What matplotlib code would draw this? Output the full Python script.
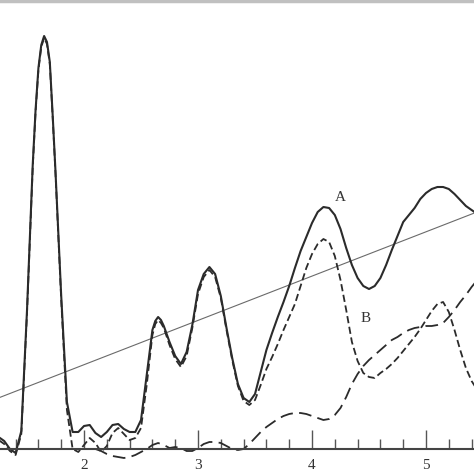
import matplotlib
matplotlib.use("Agg")
import matplotlib.pyplot as plt
from matplotlib.ticker import MultipleLocator
from matplotlib.lines import Line2D

# r grid (Angstrom) shared by curves A and B
r_ab = [1.25, 1.30, 1.35, 1.40, 1.45, 1.50, 1.55, 1.575, 1.60, 1.625, 1.65, 1.675,
        1.70, 1.725, 1.75, 1.80, 1.85, 1.90, 1.95, 2.00, 2.05, 2.10, 2.15, 2.20,
        2.25, 2.30, 2.35, 2.40, 2.45, 2.50, 2.55, 2.60, 2.625, 2.65, 2.675, 2.70,
        2.75, 2.80, 2.85, 2.90, 2.95, 3.00, 3.05, 3.10, 3.15, 3.20, 3.25, 3.30,
        3.35, 3.40, 3.45, 3.50, 3.55, 3.60, 3.65, 3.70, 3.75, 3.80, 3.85, 3.90,
        3.95, 4.00, 4.05, 4.10, 4.15, 4.20, 4.25, 4.30, 4.35, 4.40, 4.45, 4.50,
        4.55, 4.60, 4.65, 4.70, 4.75, 4.80, 4.85, 4.90, 4.95, 5.00, 5.05, 5.10,
        5.15, 5.20, 5.25, 5.30, 5.35, 5.40, 5.45]

g_A = [0.12, 0.08, 0.00, -0.04, 0.18, 1.39, 2.84, 3.39, 3.81, 4.04, 4.13, 4.07,
       3.87, 3.34, 2.77, 1.53, 0.47, 0.17, 0.17, 0.23, 0.24, 0.16, 0.12, 0.17,
       0.24, 0.25, 0.20, 0.17, 0.17, 0.29, 0.74, 1.19, 1.28, 1.32, 1.29, 1.23,
       1.07, 0.93, 0.85, 0.97, 1.24, 1.59, 1.75, 1.82, 1.75, 1.53, 1.21, 0.91,
       0.65, 0.51, 0.47, 0.55, 0.77, 0.99, 1.16, 1.32, 1.47, 1.63, 1.81, 1.98,
       2.12, 2.26, 2.37, 2.42, 2.41, 2.34, 2.20, 2.01, 1.84, 1.71, 1.63, 1.60,
       1.63, 1.71, 1.84, 1.99, 2.13, 2.27, 2.34, 2.41, 2.50, 2.56, 2.60, 2.62,
       2.62, 2.60, 2.55, 2.49, 2.43, 2.39, 2.35]

g_B = [0.09, 0.05, -0.02, -0.06, 0.15, 1.36, 2.81, 3.37, 3.79, 4.02, 4.11, 4.05,
       3.85, 3.32, 2.75, 1.49, 0.39, 0.00, -0.03, 0.04, 0.11, 0.06, -0.03, 0.03,
       0.16, 0.21, 0.15, 0.09, 0.11, 0.21, 0.64, 1.14, 1.25, 1.29, 1.26, 1.21,
       1.04, 0.90, 0.82, 0.93, 1.21, 1.55, 1.72, 1.79, 1.72, 1.51, 1.19, 0.89,
       0.63, 0.48, 0.44, 0.49, 0.64, 0.80, 0.92, 1.05, 1.19, 1.32, 1.45, 1.63,
       1.81, 1.95, 2.05, 2.10, 2.07, 1.93, 1.69, 1.39, 1.07, 0.88, 0.76, 0.72,
       0.71, 0.76, 0.80, 0.85, 0.91, 0.98, 1.05, 1.12, 1.20, 1.29, 1.38, 1.45,
       1.47, 1.37, 1.19, 0.99, 0.81, 0.68, 0.59]

r_C = [2.10, 2.15, 2.20, 2.25, 2.30, 2.35, 2.40, 2.45, 2.50, 2.55, 2.60, 2.65,
       2.70, 2.75, 2.80, 2.85, 2.90, 2.95, 3.00, 3.05, 3.10, 3.15, 3.20, 3.25,
       3.30, 3.35, 3.40, 3.45, 3.50, 3.55, 3.60, 3.65, 3.70, 3.75, 3.80, 3.85,
       3.90, 3.95, 4.00, 4.05, 4.10, 4.15, 4.20, 4.25, 4.30, 4.35, 4.40, 4.45,
       4.50, 4.55, 4.60, 4.65, 4.70, 4.75, 4.80, 4.85, 4.90, 4.95, 5.00, 5.05,
       5.10, 5.15, 5.20, 5.25, 5.30, 5.35, 5.40, 5.45]
g_C = [0.00, -0.02, -0.05, -0.07, -0.08, -0.09, -0.08, -0.06, -0.03, 0.00, 0.04, 0.06,
       0.04, 0.01, 0.02, 0.01, -0.02, -0.02, 0.01, 0.05, 0.07, 0.07, 0.06, 0.03,
       0.00, -0.01, 0.00, 0.05, 0.11, 0.17, 0.22, 0.26, 0.30, 0.33, 0.35, 0.36,
       0.36, 0.35, 0.33, 0.31, 0.29, 0.30, 0.34, 0.41, 0.52, 0.65, 0.75, 0.83,
       0.89, 0.94, 0.99, 1.04, 1.09, 1.12, 1.16, 1.19, 1.21, 1.22, 1.23, 1.23,
       1.24, 1.26, 1.32, 1.39, 1.47, 1.54, 1.62, 1.69]

# straight reference line (density line)
r_line = [1.0, 6.0]
g_line = [0.40, 2.615]

major_ticks = [2, 3, 4, 5]
labels = [("A", 4.246, 2.52), ("B", 4.474, 1.31)]

fig = plt.figure(figsize=(4.74, 4.74), dpi=100)
ax = fig.add_axes([0, 0, 1, 1])
ax.set_xlim(1.263, 5.421)
ax.set_ylim(-0.25, 4.49)

dark = "#2b2b2b"
ax.plot(r_line, g_line, color="#6a6a6a", lw=0.8)
ax.plot(r_C, g_C, color=dark, lw=1.3, dashes=(7, 3.5))
ax.plot(r_ab, g_B, color=dark, lw=1.3, dashes=(4, 2))
ax.plot(r_ab, g_A, color=dark, lw=1.5)

for t, x, y in labels:
    ax.text(x, y, t, family="Liberation Serif", fontsize=11, color="#333333",
            ha="center", va="center")

for s in ["top", "left", "right"]:
    ax.spines[s].set_visible(False)
ax.spines["bottom"].set_position(("data", 0))
ax.spines["bottom"].set_color("#444444")
ax.spines["bottom"].set_linewidth(1.5)
ax.set_xticks(major_ticks)
ax.xaxis.set_minor_locator(MultipleLocator(0.2))
ax.tick_params(axis="x", which="major", direction="in", length=14, width=1.0,
               color="#555555", pad=7, labelsize=11, labelcolor="#333333")
ax.tick_params(axis="x", which="minor", direction="in", length=7.5, width=1.0,
               color="#555555")
for lab in ax.get_xticklabels():
    lab.set_family("Liberation Serif")
ax.set_yticks([])

fig.add_artist(Line2D([0, 1], [0.997, 0.997], transform=fig.transFigure,
                      color="#c0c0c0", lw=2.5))

fig.savefig("out.png", dpi=100)
